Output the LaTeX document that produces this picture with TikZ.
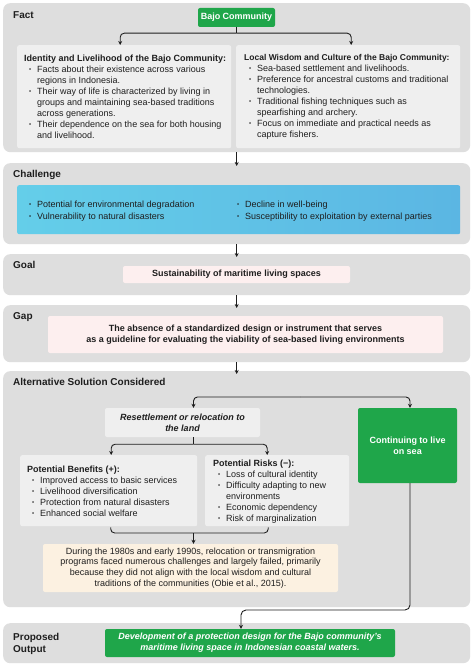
\documentclass[tikz,border=0pt]{standalone}
\usepackage{fontspec}
\setmainfont{Liberation Sans}
\usetikzlibrary{arrows.meta,calc}
\definecolor{panel}{HTML}{DEDEDE}
\definecolor{inner}{HTML}{EFEFEF}
\definecolor{grn}{HTML}{1FA64A}
\definecolor{pinkb}{HTML}{FDEFEF}
\definecolor{beige}{HTML}{FCF1E1}
\definecolor{blueL}{HTML}{64CEE9}
\definecolor{blueR}{HTML}{5BB6E3}
\definecolor{ink}{HTML}{1E1E1E}
\newcommand\bul{\hspace*{5pt}\makebox[8pt][l]{\raisebox{0.8pt}{\fontsize{6}{6}\selectfont •}}}
\newcommand\ind{\hspace*{13pt}}
\newcommand\rbox[6]{\node[#2, anchor=north west, minimum width={#5-#3}, minimum height={#6-#4}] (#1) at (#3,#4) {};}
\begin{document}
\begin{tikzpicture}[x=1pt,y=-1pt,
  panelbox/.style={fill=panel, rounded corners=7pt, inner sep=0pt},
  innerbox/.style={fill=inner, rounded corners=2pt, inner sep=0pt},
  greenbox/.style={fill=grn, rounded corners=2pt, inner sep=0pt, text=white, font=\bfseries\fontsize{9}{11}\selectfont, align=center},
  pinkbox/.style={fill=pinkb, rounded corners=2pt, inner sep=0pt, text=ink, font=\bfseries\fontsize{9}{11}\selectfont, align=center},
  beigebox/.style={fill=beige, rounded corners=2pt, inner sep=0pt, text=ink, font=\fontsize{9}{10.7}\selectfont, align=center},
  bluebox/.style={left color=blueL, right color=blueR, rounded corners=2pt, inner sep=0pt},
  sectitle/.style={font=\bfseries\fontsize{10}{12}\selectfont, text=ink, inner sep=0pt, anchor=base west, align=left},
  body/.style={font=\fontsize{9}{11}\selectfont, text=ink, inner sep=0pt, anchor=north west, align=left},
  conn/.style={draw=ink, line width=0.9pt},
  arr/.style={conn, -{Stealth[length=4pt,width=4pt]}},
]
\fill[white] (0,0) rectangle (474,668);
\useasboundingbox (0,0) rectangle (474,668);

% panels
\rbox{fact}{panelbox}{3}{3}{470}{152}
\rbox{chal}{panelbox}{3}{163}{470}{244}
\rbox{goal}{panelbox}{3}{254}{470}{295}
\rbox{gap}{panelbox}{3}{305}{470}{362}
\rbox{alt}{panelbox}{3}{371}{470}{607}
\rbox{prop}{panelbox}{3}{623}{470}{663}

% titles
\node[sectitle] (tfact) at (13,19) {Fact};
\node[sectitle] (tchal) at (13,178) {Challenge};
\node[sectitle] (tgoal) at (13,268) {Goal};
\node[sectitle] (tgap) at (13,319) {Gap};
\node[sectitle] (talt) at (13,385) {Alternative Solution Considered};
\node[sectitle, anchor=north west] (tprop) at (13,632.6) {Proposed\\Output};

% Fact
\node[greenbox, minimum width=77pt, minimum height=19pt] (bajo) at (236.5,17.5) {Bajo Community};
\rbox{idbox}{innerbox}{17}{45}{231}{148}
\rbox{lwbox}{innerbox}{236}{45}{460}{148}
\node[body] (idtxt) at (24,54.3) {\textbf{Identity and Livelihood of the Bajo Community:}\\
\bul Facts about their existence across various\\
\ind regions in Indonesia.\\
\bul Their way of life is characterized by living in\\
\ind groups and maintaining sea-based traditions\\
\ind across generations.\\
\bul Their dependence on the sea for both housing\\
\ind and livelihood.};
\node[body] (lwtxt) at (244,54.3) {{\fontsize{8.5}{11}\selectfont\textbf{Local Wisdom and Culture of the Bajo Community:}}\\
\bul Sea-based settlement and livelihoods.\\
\bul Preference for ancestral customs and traditional\\
\ind technologies.\\
\bul Traditional fishing techniques such as\\
\ind spearfishing and archery.\\
\bul Focus on immediate and practical needs as\\
\ind capture fishers.};
\coordinate (bj) at ([yshift=-6pt]bajo.south);
\draw[conn] (bajo.south) -- (bj);
\draw[arr, rounded corners=4pt] (bj) -| ([xshift=-4pt]idbox.north);
\draw[arr, rounded corners=4pt] (bj) -| ([xshift=3pt]lwbox.north);

% Challenge
\rbox{chin}{bluebox}{17}{185}{460}{234}
\node[body, font=\fontsize{9}{12}\selectfont] (chl) at (24,200.3) {\bul Potential for environmental degradation\\
\bul Vulnerability to natural disasters};
\node[body, font=\fontsize{9}{12}\selectfont] (chr) at (232,200.3) {\bul Decline in well-being\\
\bul Susceptibility to exploitation by external parties};

% Goal
\node[pinkbox, minimum width=227pt, minimum height=17pt] (goalin) at (236.5,274.5) {Sustainability of maritime living spaces};

% Gap
\node[pinkbox, minimum width=395pt, minimum height=37pt] (gapin) at (245.5,334.5) {The absence of a standardized design or instrument that serves\\as a guideline for evaluating the viability of sea-based living environments};

% Alternative
\node[innerbox, minimum width=155pt, minimum height=29pt, font=\bfseries\itshape\fontsize{9}{11}\selectfont, text=ink, align=center] (reset) at (182.5,422.5) {Resettlement or relocation to\\the land};
\node[greenbox, minimum width=99pt, minimum height=75pt] (cont) at (407.5,445.5) {Continuing to live\\on sea};
\coordinate (ab) at (300,397);
\draw[arr, rounded corners=4pt] (ab) -| ([xshift=11pt]reset.north);
\draw[arr, rounded corners=4pt] (ab) -| ([xshift=2.5pt]cont.north);

\rbox{ben}{innerbox}{20}{455}{197}{526}
\rbox{risk}{innerbox}{205}{455}{349}{526}
\node[body] (bentxt) at (27,465.3) {\textbf{Potential Benefits (+):}\\
\bul Improved access to basic services\\
\bul Livelihood diversification\\
\bul Protection from natural disasters\\
\bul Enhanced social welfare};
\node[body] (risktxt) at (213,459.8) {\textbf{Potential Risks (−):}\\
\bul Loss of cultural identity\\
\bul Difficulty adapting to new\\
\ind environments\\
\bul Economic dependency\\
\bul Risk of marginalization};
\coordinate (rs) at ([xshift=11pt,yshift=-7pt]reset.south);
\draw[conn] ([xshift=11pt]reset.south) -- (rs);
\draw[arr, rounded corners=4pt] (rs) -| ([xshift=2.5pt]ben.north);
\draw[arr, rounded corners=4pt] (rs) -| ([xshift=-10pt]risk.north);

\node[beigebox, minimum width=295pt, minimum height=48pt] (note) at (190.5,568) {During the 1980s and early 1990s, relocation or transmigration\\programs faced numerous challenges and largely failed, primarily\\because they did not align with the local wisdom and cultural\\traditions of the communities (Obie et al., 2015).};
\coordinate (bk) at (193.5,533);
\draw[conn, rounded corners=4pt] ([xshift=2pt,yshift=-1pt]ben.south) |- (bk) -| ([xshift=-9pt,yshift=-1pt]risk.south);
\draw[arr] (bk) -- (bk |- note.north);

% Proposed output
\node[greenbox, minimum width=290pt, minimum height=28pt, font=\bfseries\itshape\fontsize{9}{11}\selectfont] (outp) at (250,643) {Development of a protection design for the Bajo community’s\\maritime living space in Indonesian coastal waters.};
\coordinate (turn) at (241,610);
\draw[arr, rounded corners=5pt] ([xshift=2.5pt]cont.south) |- (turn) -- (turn |- outp.north);

% between panels
\draw[arr, shorten >=-3pt] (fact.south) -- (chal.north);
\draw[arr, shorten >=-3pt] (chal.south) -- (goal.north);
\draw[arr, shorten >=-3pt] (goal.south) -- (gap.north);
\draw[arr, shorten >=-3pt] (gap.south) -- (alt.north);
\end{tikzpicture}
\end{document}
